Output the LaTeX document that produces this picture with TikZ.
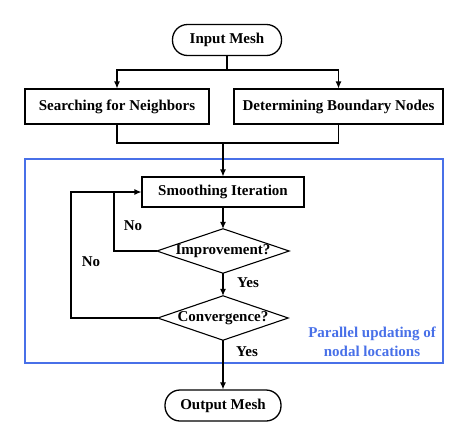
\documentclass[tikz,border=0pt]{standalone}
\usepackage{fontspec}
\setmainfont{Liberation Serif}
\usetikzlibrary{shapes.geometric,arrows.meta}
\definecolor{pblue}{RGB}{72,112,232}
\begin{document}
\begin{tikzpicture}[x=1pt,y=-1pt,
  every node/.style={font=\fontsize{15}{17}\selectfont\bfseries},
  term/.style={draw,line width=1.3pt,rounded corners=15pt,minimum width=#1,minimum height=31pt,inner sep=0pt},
  procbox/.style={draw,line width=1.1pt,minimum width=#1,minimum height=35pt,inner sep=0pt},
  decision/.style={rectangle,minimum width=#1,minimum height=44pt,inner sep=0pt},
  dshape/.style={line width=1.1pt,line join=miter},
  conn/.style={line width=1.1pt},
  arr/.style={conn,-{Latex[length=7pt,width=6pt]}},
  lbl/.style={inner sep=0pt}
]
\useasboundingbox (0,0) rectangle (474,445);
\node[term=109pt] (in) at (227,40) {Input Mesh};
\node[procbox=184pt] (sn) at (117,106.5) {Searching for Neighbors};
\node[procbox=209pt] (db) at (338.5,106.5) {Determining Boundary Nodes};
\node[procbox=162pt,minimum height=30pt] (si) at (223,192) {Smoothing Iteration};
\node[decision=132pt] (im) at (223,251) {Improvement?};
\node[decision=130pt] (cv) at (223,318) {Convergence?};
\node[term=116pt] (out) at (223,405.5) {Output Mesh};
\draw[dshape] (im.west) -- (im.north) -- (im.east) -- (im.south) -- cycle;
\draw[dshape] (cv.west) -- (cv.north) -- (cv.east) -- (cv.south) -- cycle;

\draw[pblue,line width=1.6pt] (25,159) rectangle (443,363);
\node[lbl,text=pblue,align=center,font=\fontsize{15}{19}\selectfont\bfseries] (par) at (372,342) {Parallel updating of\\nodal locations};

\coordinate (fork) at (227,70);
\coordinate (join) at (223,143);
\draw[conn] (in.south) -- (fork);
\draw[arr] (fork) -| (sn.north);
\draw[arr] (fork) -| (db.north);
\draw[conn] (sn.south) |- (join);
\draw[conn] (db.south) |- (join);
\draw[arr] (join) -- (si.north);
\draw[arr] (si.south) -- (im.north);
\draw[arr] (im.south) -- (cv.north);
\draw[arr] (cv.south) -- (out.north);
\coordinate (l1) at (114,192);
\coordinate (l2) at (71,192);
\draw[conn] (im.west) -| (l1);
\draw[conn] (cv.west) -| (l2) -- (l1);
\draw[arr] (l1) -- (si.west);

\node[lbl] (no1) at (133,226) {No};
\node[lbl] (no2) at (91,262) {No};
\node[lbl] (yes1) at (248,283) {Yes};
\node[lbl] (yes2) at (247,352) {Yes};
\end{tikzpicture}
\end{document}
